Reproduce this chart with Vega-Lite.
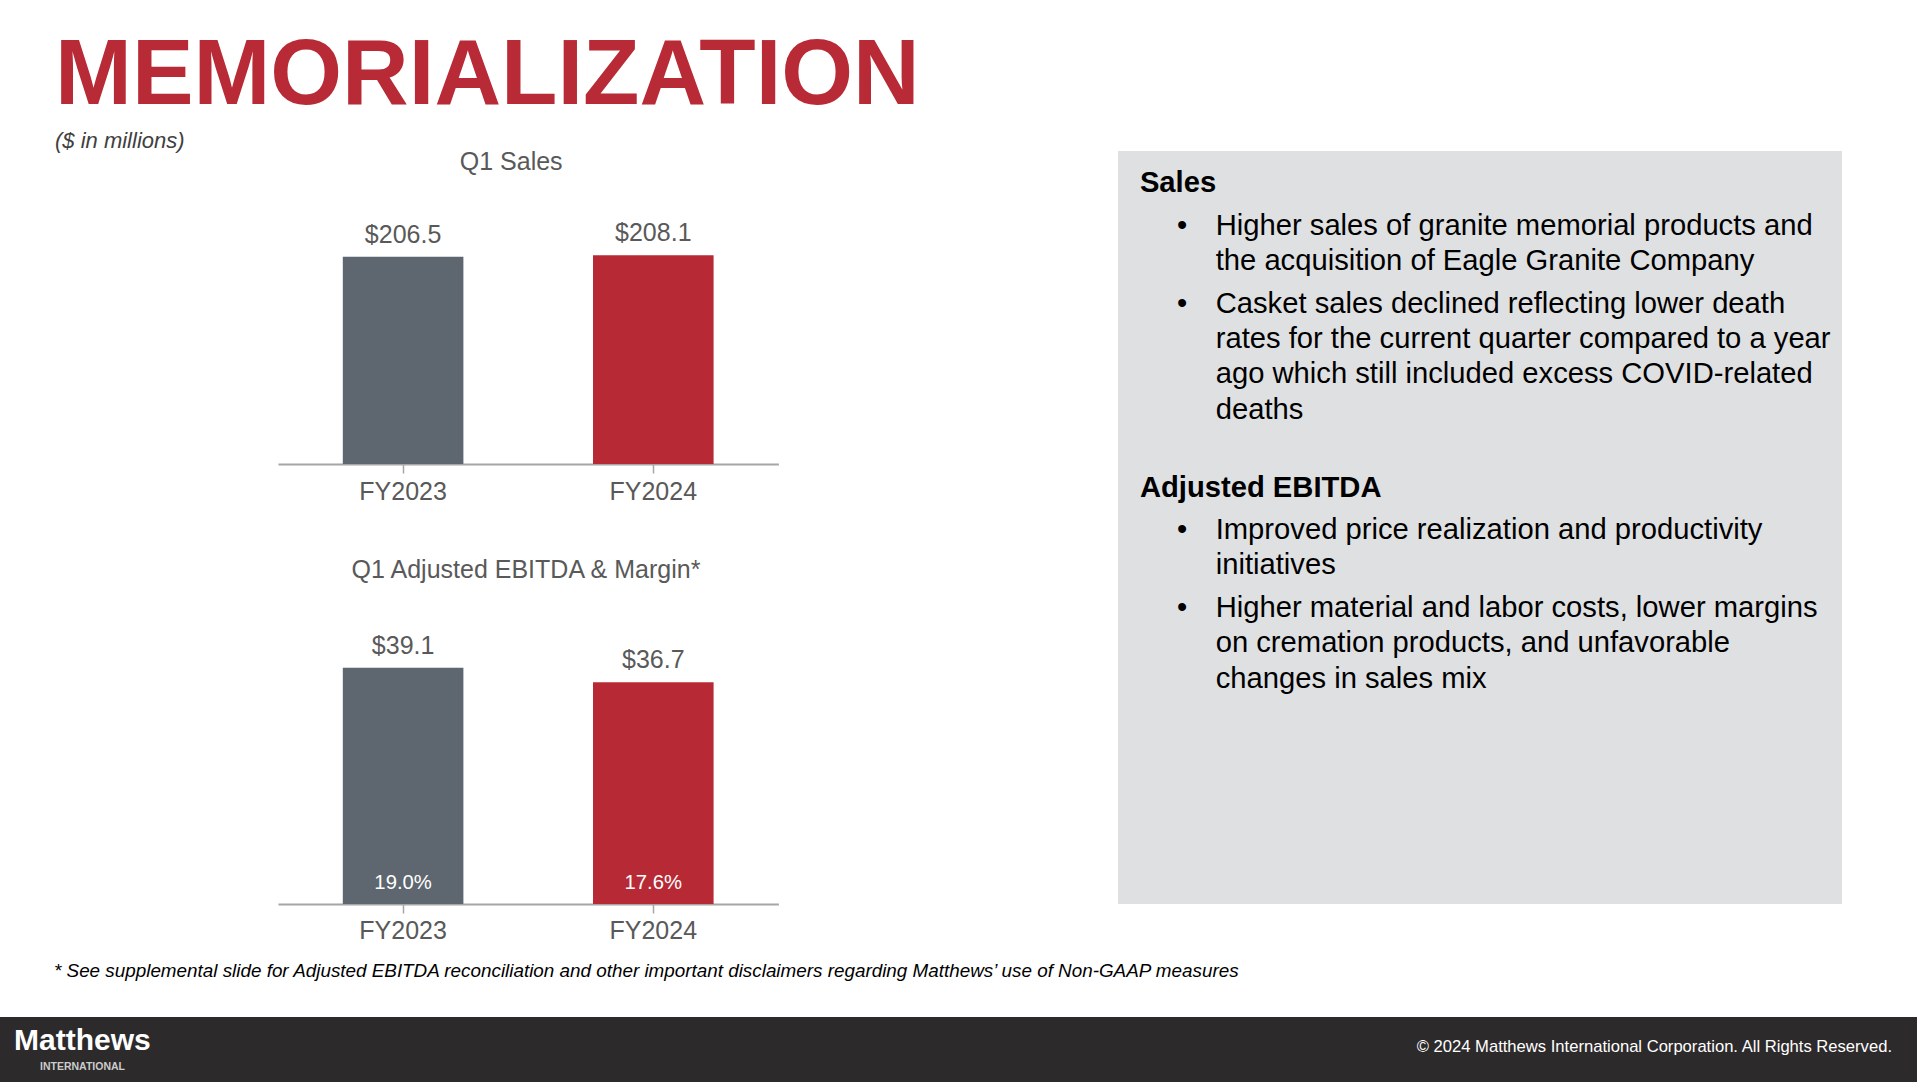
{
  "$schema": "https://vega.github.io/schema/vega-lite/v6.json",
  "background": "white",
  "padding": {"top": 30, "left": 0, "right": 0, "bottom": 0},
  "config": {
    "font": "Liberation Sans",
    "view": {"stroke": null},
    "title": {"font": "Liberation Sans", "fontWeight": "normal"},
    "axisX": {"domainColor": "#A6A6A6", "domainWidth": 2, "tickColor": "#A6A6A6", "tickWidth": 1.5, "tickSize": 9, "labelFont": "Liberation Sans", "labelFontSize": 25, "labelColor": "#595959", "labelPadding": 6, "labelAngle": 0, "title": null}
  },
  "title": {
    "text": "MEMORIALIZATION",
    "subtitle": "($ in millions)",
    "anchor": "start",
    "frame": "bounds",
    "dx": 55,
    "offset": -2.6,
    "font": "Liberation Sans",
    "fontSize": 92.3,
    "fontWeight": "bold",
    "color": "#B82A35",
    "subtitleFont": "Liberation Sans",
    "subtitleFontSize": 22,
    "subtitleFontStyle": "italic",
    "subtitleColor": "#404040",
    "subtitlePadding": 7.3
  },
  "spacing": 18,
  "vconcat": [
    {
      "spacing": 0,
      "hconcat": [
        {"width": 277.2, "height": 1, "data": {"values": []}, "mark": "point"},
        {
          "spacing": 52.95,
          "vconcat": [
            {
              "width": 500.4,
              "height": 313,
              "title": {"text": "Q1 Sales", "fontSize": 25, "color": "#595959", "offset": -24.35, "dx": -17},
              "data": {"values": [{"year": "FY2023", "sales": 206.5}, {"year": "FY2024", "sales": 208.1}]},
              "encoding": {
                "x": {"field": "year", "type": "nominal", "sort": null, "scale": {"paddingInner": 0.518, "paddingOuter": 0.259}, "axis": {"title": null}},
                "y": {"field": "sales", "type": "quantitative", "scale": {"domain": [0, 312], "nice": false}, "axis": null}
              },
              "layer": [
                {"mark": {"type": "bar"}, "encoding": {"color": {"field": "year", "type": "nominal", "scale": {"domain": ["FY2023", "FY2024"], "range": ["#5E6670", "#B72A35"]}, "legend": null}}},
                {"mark": {"type": "text", "baseline": "middle", "dy": -22, "fontSize": 25, "color": "#595959"}, "encoding": {"text": {"field": "sales", "type": "quantitative", "format": "$.1f"}}}
              ]
            },
            {
              "width": 500.4,
              "height": 302,
              "title": {"text": "Q1 Adjusted EBITDA & Margin*", "fontSize": 25, "color": "#595959", "offset": 19.05, "dx": -2.2},
              "data": {"values": [{"year": "FY2023", "ebitda": 39.1, "margin": 0.190}, {"year": "FY2024", "ebitda": 36.7, "margin": 0.176}]},
              "encoding": {
                "x": {"field": "year", "type": "nominal", "sort": null, "scale": {"paddingInner": 0.518, "paddingOuter": 0.259}, "axis": {"title": null}},
                "y": {"field": "ebitda", "type": "quantitative", "scale": {"domain": [0, 50], "nice": false}, "axis": null}
              },
              "layer": [
                {"mark": {"type": "bar"}, "encoding": {"color": {"field": "year", "type": "nominal", "scale": {"domain": ["FY2023", "FY2024"], "range": ["#5E6670", "#B72A35"]}, "legend": null}}},
                {"mark": {"type": "text", "baseline": "middle", "dy": -22, "fontSize": 25, "color": "#595959"}, "encoding": {"text": {"field": "ebitda", "type": "quantitative", "format": "$.1f"}}},
                {"mark": {"type": "text", "baseline": "middle", "dy": -21, "fontSize": 20.3, "color": "#FFFFFF"}, "encoding": {"y": {"datum": 0}, "text": {"field": "margin", "type": "quantitative", "format": ".1%"}}}
              ]
            }
          ]
        },
        {"width": 338.7, "height": 1, "data": {"values": []}, "mark": "point"},
        {
          "width": 724,
          "height": 753,
          "view": {"fill": "#DFE0E2", "stroke": null},
          "data": {"values": [
            {"kind": "head", "col": "head", "line": 0, "para": 0, "text": "Sales"},
            {"kind": "bullet", "col": "body", "line": 1, "para": 1, "text": "•"},
            {"kind": "body", "col": "body", "line": 1, "para": 1, "text": "Higher sales of granite memorial products and"},
            {"kind": "body", "col": "body", "line": 2, "para": 1, "text": "the acquisition of Eagle Granite Company"},
            {"kind": "bullet", "col": "body", "line": 3, "para": 2, "text": "•"},
            {"kind": "body", "col": "body", "line": 3, "para": 2, "text": "Casket sales declined reflecting lower death"},
            {"kind": "body", "col": "body", "line": 4, "para": 2, "text": "rates for the current quarter compared to a year"},
            {"kind": "body", "col": "body", "line": 5, "para": 2, "text": "ago which still included excess COVID-related"},
            {"kind": "body", "col": "body", "line": 6, "para": 2, "text": "deaths"},
            {"kind": "head", "col": "head", "line": 8, "para": 3, "text": "Adjusted EBITDA"},
            {"kind": "bullet", "col": "body", "line": 9, "para": 4, "text": "•"},
            {"kind": "body", "col": "body", "line": 9, "para": 4, "text": "Improved price realization and productivity"},
            {"kind": "body", "col": "body", "line": 10, "para": 4, "text": "initiatives"},
            {"kind": "bullet", "col": "body", "line": 11, "para": 5, "text": "•"},
            {"kind": "body", "col": "body", "line": 11, "para": 5, "text": "Higher material and labor costs, lower margins"},
            {"kind": "body", "col": "body", "line": 12, "para": 5, "text": "on cremation products, and unfavorable"},
            {"kind": "body", "col": "body", "line": 13, "para": 5, "text": "changes in sales mix"}
          ]},
          "encoding": {
            "x": {"field": "col", "type": "nominal", "scale": {"type": "point", "domain": ["head", "body"], "range": [21.9, 97.7], "padding": 0}, "axis": null},
            "y": {"field": "line", "type": "ordinal", "scale": {"type": "point", "domain": [0, 1, 2, 3, 4, 5, 6, 7, 8, 9, 10, 11, 12, 13], "range": [32.4, 491.3], "padding": 0}, "axis": null},
            "yOffset": {"field": "para", "type": "quantitative", "scale": {"domain": [0, 5], "range": [0, 36.2], "nice": false, "zero": false}},
            "text": {"field": "text"}
          },
          "layer": [
            {"transform": [{"filter": "datum.kind == 'head'"}], "mark": {"type": "text", "align": "left", "baseline": "middle", "fontSize": 29.2, "fontWeight": "bold", "color": "#000000"}},
            {"transform": [{"filter": "datum.kind == 'bullet'"}], "mark": {"type": "text", "align": "left", "baseline": "middle", "fontSize": 29.2, "dx": -38.8, "color": "#000000"}},
            {"transform": [{"filter": "datum.kind == 'body'"}], "mark": {"type": "text", "align": "left", "baseline": "middle", "fontSize": 29.2, "color": "#000000"}}
          ]
        }
      ]
    },
    {
      "width": 1917,
      "height": 66,
      "view": {"fill": "#2D2A2B", "stroke": null},
      "title": {"text": "* See supplemental slide for Adjusted EBITDA reconciliation and other important disclaimers regarding Matthews’ use of Non-GAAP measures", "anchor": "start", "frame": "bounds", "dx": 54, "offset": 36, "fontSize": 18.85, "fontStyle": "italic", "color": "#000000"},
      "data": {"values": [
        {"part": "logo", "side": "left", "tier": "main", "text": "Matthews"},
        {"part": "tag", "side": "left", "tier": "sub", "text": "INTERNATIONAL"},
        {"part": "rights", "side": "right", "tier": "main", "text": "© 2024 Matthews International Corporation. All Rights Reserved."}
      ]},
      "encoding": {
        "x": {"field": "side", "type": "nominal", "scale": {"type": "point", "domain": ["left", "right"], "range": [14, 1892], "padding": 0}, "axis": null},
        "y": {"field": "tier", "type": "nominal", "scale": {"type": "point", "domain": ["main", "sub"], "range": [34.7, 52.6], "padding": 0}, "axis": null},
        "text": {"field": "text"}
      },
      "layer": [
        {"transform": [{"filter": "datum.part == 'logo'"}], "mark": {"type": "text", "align": "left", "baseline": "alphabetic", "fontSize": 30, "fontWeight": "bold", "dy": -1.5, "color": "#FFFFFF"}},
        {"transform": [{"filter": "datum.part == 'tag'"}], "mark": {"type": "text", "align": "center", "baseline": "alphabetic", "fontSize": 10.5, "fontWeight": "bold", "dx": 68.5, "color": "#CCCCCC"}},
        {"transform": [{"filter": "datum.part == 'rights'"}], "mark": {"type": "text", "align": "right", "baseline": "alphabetic", "fontSize": 16.6, "color": "#FFFFFF"}}
      ]
    }
  ]
}
